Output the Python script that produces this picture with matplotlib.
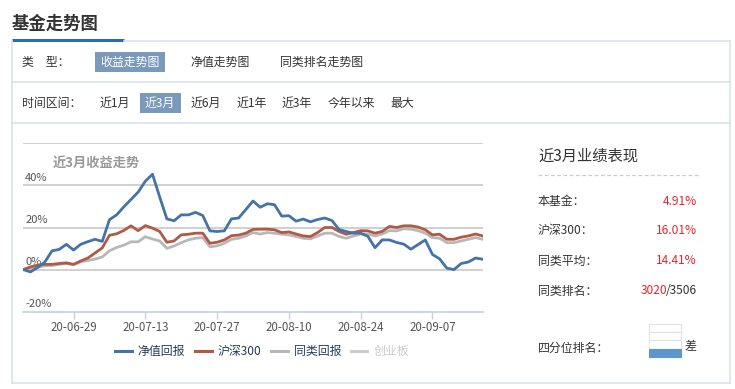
import matplotlib
matplotlib.use('Agg')
import matplotlib.pyplot as plt
from matplotlib.patches import Rectangle
from matplotlib.lines import Line2D

plt.rcParams['font.family'] = ['Noto Sans CJK SC', 'DejaVu Sans']
plt.rcParams['axes.unicode_minus'] = False

# 交易日 (2020-06-16 ~ 2020-09-16)
dates = ['06-16', '06-17', '06-18', '06-19', '06-22', '06-23', '06-24',
         '06-29', '06-30', '07-01', '07-02', '07-03',
         '07-06', '07-07', '07-08', '07-09', '07-10',
         '07-13', '07-14', '07-15', '07-16', '07-17',
         '07-20', '07-21', '07-22', '07-23', '07-24',
         '07-27', '07-28', '07-29', '07-30', '07-31',
         '08-03', '08-04', '08-05', '08-06', '08-07',
         '08-10', '08-11', '08-12', '08-13', '08-14',
         '08-17', '08-18', '08-19', '08-20', '08-21',
         '08-24', '08-25', '08-26', '08-27', '08-28',
         '08-31', '09-01', '09-02', '09-03', '09-04',
         '09-07', '09-08', '09-09', '09-10', '09-11',
         '09-14', '09-15', '09-16']

# 净值回报 (%)
fund = [0, -1.1, 1.0, 3.6, 8.9, 9.6, 12.0, 9.3, 12.0, 13.3, 14.4, 13.4,
        23.7, 26.0, 29.8, 33.3, 36.8, 42.0, 45.3, 34.5, 24.1, 23.2, 26.0,
        26.0, 27.2, 25.7, 18.4, 18.1, 18.4, 24.1, 24.5, 28.5, 32.6, 29.6,
        31.3, 30.8, 25.4, 25.6, 23.0, 24.0, 22.7, 23.8, 24.5, 23.3, 19.0,
        18.1, 17.3, 17.3, 15.8, 10.4, 14.1, 14.1, 12.9, 12.1, 9.7, 11.9,
        14.1, 7.2, 5.1, 0.7, 0.0, 2.9, 3.6, 5.5, 4.91]
# 沪深300 (%)
hs300 = [0, 1.3, 2.1, 2.5, 2.5, 2.9, 3.2, 2.5, 4.1, 5.5, 7.9, 10.3,
         16.3, 17.0, 18.6, 20.8, 18.5, 20.9, 19.7, 18.1, 13.0, 13.6, 16.5,
         16.8, 17.3, 17.3, 12.5, 13.0, 14.1, 16.1, 16.4, 17.3, 19.1, 19.2,
         19.2, 18.9, 17.6, 17.9, 16.9, 16.0, 15.7, 17.6, 20.0, 20.0, 18.1,
         16.8, 17.6, 18.5, 18.4, 17.3, 18.1, 20.5, 20.0, 20.8, 20.8, 20.2,
         18.9, 16.5, 16.8, 14.4, 14.4, 15.4, 16.0, 16.9, 16.01]
# 同类回报 (%)
peer = [0, 0.5, 1.2, 1.8, 2.0, 2.5, 2.9, 2.3, 3.7, 4.3, 5.0, 6.0,
        8.9, 10.5, 11.6, 13.2, 13.2, 15.6, 14.5, 13.6, 10.1, 11.2, 12.8,
        14.1, 14.9, 15.2, 10.8, 11.3, 12.5, 14.4, 14.9, 16.0, 17.6, 16.9,
        17.6, 17.3, 16.8, 16.5, 15.7, 14.9, 14.6, 16.0, 17.3, 17.3, 15.7,
        14.9, 16.0, 16.9, 16.9, 16.0, 16.9, 18.5, 18.4, 19.4, 19.2, 18.5,
        17.3, 15.2, 14.9, 12.8, 12.8, 13.6, 14.4, 15.2, 14.41]

tick_dates = ['06-29', '07-13', '07-27', '08-10', '08-24', '09-07']
y_levels = [-20, 0, 20, 40, 60]

series_names = ['净值回报', '沪深300', '同类回报', '创业板']
series_colors = ['#4572a7', '#b05a45', '#b8b8b8', '#cccccc']

type_tabs = ['收益走势图', '净值走势图', '同类排名走势图']
period_tabs = ['近1月', '近3月', '近6月', '近1年', '近3年', '今年以来', '最大']

perf_labels = ['本基金：', '沪深300：', '同类平均：', '同类排名：']
perf_values = ['4.91%', '16.01%', '14.41%', '3020']

W, H = 735, 389
fig = plt.figure(figsize=(W / 100, H / 100), dpi=100)

# 背景层, 像素坐标
bg = fig.add_axes([0, 0, 1, 1])
bg.set_xlim(0, W)
bg.set_ylim(H, 0)
bg.axis('off')

border = '#dae3ea'
txt = '#333333'

bg.text(12, 24, '基金走势图', fontsize=12.5, fontweight='bold', color='#333333', va='center')
bg.plot([12, 124], [39.5, 39.5], color='#2a6db0', lw=2.2, solid_capstyle='butt')
# 外框
bg.plot([124, 730.5], [41, 41], color=border, lw=1.2)
bg.plot([12.3, 12.3], [41, 383.3], color=border, lw=1.2)
bg.plot([730.5, 730.5], [41, 383.3], color=border, lw=1.2)
bg.plot([12.3, 730.5], [383.3, 383.3], color=border, lw=1.2)
bg.plot([12.3, 730.5], [81.7, 81.7], color=border, lw=1.2)
bg.plot([12.3, 730.5], [123.3, 123.3], color=border, lw=1.2)

# 类型
bg.text(22, 62, '类　型：', fontsize=8.6, color=txt, va='center')
tab_x = [100, 190, 280]
bg.add_patch(Rectangle((95, 51.7), 70, 20, color='#7a99bb', lw=0))
for i, (x, t) in enumerate(zip(tab_x, type_tabs)):
    bg.text(x, 62, t, fontsize=8.6, color='white' if i == 0 else txt, va='center')

# 时间区间
bg.text(22, 103, '时间区间：', fontsize=8.6, color=txt, va='center')
per_x = [100, 145, 191, 237, 282, 328, 390]
bg.add_patch(Rectangle((140, 93.3), 41, 19.5, color='#7a99bb', lw=0))
for i, (x, t) in enumerate(zip(per_x, period_tabs)):
    bg.text(x, 103, t, fontsize=8.6, color='white' if i == 1 else txt, va='center')

# 右侧业绩
bg.text(538, 156, '近3月业绩表现', fontsize=11, color=txt, va='center')
bg.plot([538, 698], [175, 175], color='#cccccc', lw=0.9, ls=(0, (3, 2)))
row_y = [201, 230, 261, 291]
for y, lab, val in zip(row_y, perf_labels, perf_values):
    bg.text(538, y, lab, fontsize=8.6, color=txt, va='center')
    if lab == '同类排名：':
        bg.text(697, y, '/3506', fontsize=8.6, color=txt, va='center', ha='right')
        bg.text(667, y, val, fontsize=8.6, color='#e4252a', va='center', ha='right')
    else:
        bg.text(697, y, val, fontsize=8.6, color='#e4252a', va='center', ha='right')

bg.text(538, 348, '四分位排名：', fontsize=8.6, color=txt, va='center')
cell_h = (356.7 - 324) / 4
for k in range(4):
    top = 324 + k * cell_h
    if k == 3:
        bg.add_patch(Rectangle((649.3, top), 31.4, cell_h, facecolor='#5b97cd', edgecolor='#5b97cd', lw=0.8))
    else:
        bg.add_patch(Rectangle((649.3, top), 31.4, cell_h, facecolor='white', edgecolor='#e3e3e3', lw=0.8))
bg.text(685, 347, '差', fontsize=8.6, color=txt, va='center')

# 图表
x0, x1, y0, y1 = 23.3, 482.7, 143.3, 311.7
ax = fig.add_axes([x0 / W, 1 - y1 / H, (x1 - x0) / W, (y1 - y0) / H])
ax.patch.set_alpha(0)
xs = list(range(len(dates)))
ax.set_xlim(0, len(dates) - 1)
ax.set_ylim(-20, 60)
for v in y_levels[1:]:
    ax.axhline(v, color='#c4c4c4', lw=1.1, zorder=0)
for s in ['top', 'left', 'right']:
    ax.spines[s].set_visible(False)
ax.spines['bottom'].set_color('#c3d1e2')
ax.spines['bottom'].set_linewidth(1.2)
ax.set_yticks([])
ax.set_xticks([dates.index(d) for d in tick_dates])
ax.set_xticklabels(['20-' + d for d in tick_dates], fontsize=8.3, color='#555555')
ax.tick_params(axis='x', length=5, width=1, color='#c3d1e2', pad=1.5)

for v in y_levels[:-1]:
    ax.text(2 / (x1 - x0), v + 1.2, '%d%%' % v, transform=ax.get_yaxis_transform(),
            fontsize=8, color='#555555', va='bottom', ha='left')
ax.text(0.065, 0.88, '近3月收益走势', transform=ax.transAxes, fontsize=9.5,
        fontweight='bold', color='#999999', va='center')

ax.plot(xs, peer, color=series_colors[2], lw=2.0, label=series_names[2], zorder=3)
ax.plot(xs, hs300, color=series_colors[1], lw=2.0, label=series_names[1], zorder=4)
ax.plot(xs, fund, color=series_colors[0], lw=2.0, label=series_names[0], zorder=5)

handles = [Line2D([], [], color=c, lw=2.2) for c in series_colors]
leg = fig.legend(handles, series_names, loc='center', bbox_to_anchor=(262 / W, 1 - 351.7 / H),
                 ncol=4, frameon=False, fontsize=8.6, handlelength=1.4, handletextpad=0.5,
                 columnspacing=0.8)
for t, c in zip(leg.get_texts(), ['#253d58', '#253d58', '#253d58', '#cccccc']):
    t.set_color(c)

fig.savefig('out.png', dpi=100)
